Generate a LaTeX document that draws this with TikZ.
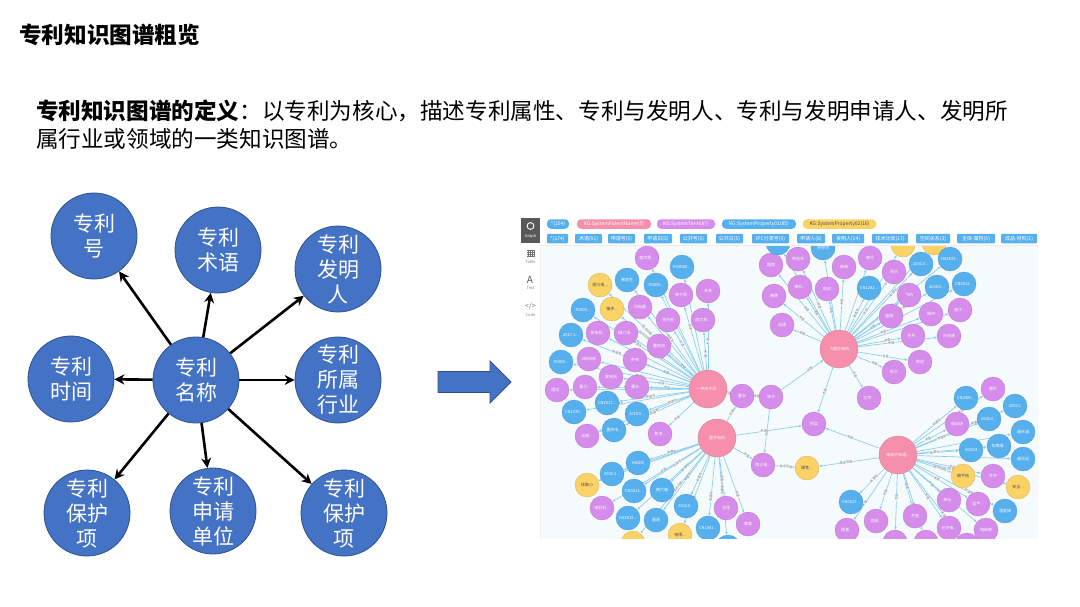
\documentclass[tikz,border=0pt]{standalone}
\usepackage{fontspec}
\setmainfont{Noto Sans CJK SC}
\usetikzlibrary{arrows.meta}
\pgfdeclarelayer{under}
\pgfdeclarelayer{edges}
\pgfsetlayers{under,edges,main}
\definecolor{bigblue}{HTML}{4472C4}
\definecolor{bigline}{HTML}{2F528F}
\definecolor{gpurple}{HTML}{D68CEA}
\definecolor{gblue}{HTML}{57B0EE}
\definecolor{gyellow}{HTML}{FAD265}
\definecolor{gpink}{HTML}{F58FAB}
\definecolor{gedge}{HTML}{86CCEC}
\definecolor{gpanel}{HTML}{F5FAFC}
\newcommand{\dd}{.{}.{}.}
\tikzset{
  big/.style={circle,draw=bigline,line width=.8pt,fill=bigblue,minimum size=86pt,inner sep=0pt,text=white,align=center,font=\fontsize{21}{25}\selectfont},
  bigarrow/.style={line width=2.6pt,black,-{Stealth[length=10pt,width=10pt]}},
  gn/.style={circle,minimum size=24pt,inner sep=0pt,align=center,font=\fontsize{4}{5}\selectfont,text=white},
  P/.style={gn,fill=gpurple,draw=gpurple!85!black,line width=.3pt},
  B/.style={gn,fill=gblue,draw=gblue!85!black,line width=.3pt},
  Y/.style={gn,fill=gyellow,draw=gyellow!85!black,line width=.3pt,text=black!70},
  H/.style={gn,fill=gpink,draw=gpink!85!black,line width=.3pt,minimum size=38pt},
  gedgeline/.style={draw=gedge,line width=.65pt,-{Latex[length=2.8pt,width=2.6pt]}},
  elabel/.style={sloped,font=\fontsize{3.2}{4}\selectfont,text=black!55,fill=gpanel,inner sep=.2pt},
  pillA/.style={rounded corners=4pt,minimum height=9.5pt,inner sep=0pt,text=white,font=\fontsize{5}{6}\selectfont},
  pillB/.style={rounded corners=1pt,minimum height=9.5pt,inner sep=0pt,text=white,fill=gblue,font=\fontsize{5}{6}\selectfont},
  sidelabel/.style={font=\fontsize{4}{5}\selectfont,text=black!50,inner sep=0pt},
  headline/.style={anchor=west,inner sep=0pt,font=\fontsize{22.6}{28}\selectfont},
}
\newcommand{\hubedges}[3]{%
  \begin{pgfonlayer}{edges}
  \foreach \n [count=\i] in {#3}
    \path[gedgeline] (#1) -- node[elabel,pos={0.42+0.13*mod(\i,3)}]{#2} (\n);
  \end{pgfonlayer}}
\newcommand{\pillitem}[6]{\node[#5,minimum width=#3pt-#2pt] (#1) at ({(#2+#3)/2},#4) {#6};}
\begin{document}
\begin{tikzpicture}[x=1pt,y=-1pt]
\useasboundingbox (0,0) rectangle (1080,606);
\begin{pgfonlayer}{under}
\fill[white] (0,0) rectangle (1080,606);
\fill[gpanel] (540,245) rectangle (1038,539);
\end{pgfonlayer}

% headings
\node[headline] (title) at (19,35) {\textbf{专利知识图谱粗览}};
\node[headline] (line1) at (36,111) {\textbf{专利知识图谱的定义}：以专利为核心，描述专利属性、专利与发明人、专利与发明申请人、发明所};
\node[headline] (line2) at (36,139) {属行业或领域的一类知识图谱。};

% left diagram
\node[big] (name) at (196,380) {专利\\名称};
\node[big] (num) at (94,236) {专利\\号};
\node[big] (term) at (218,250) {专利\\术语};
\node[big] (inv) at (338,269) {专利\\发明\\人};
\node[big] (time) at (71,379) {专利\\时间};
\node[big] (ind) at (338,380) {专利\\所属\\行业};
\node[big] (prot1) at (87,513) {专利\\保护\\项};
\node[big] (app) at (213,511) {专利\\申请\\单位};
\node[big] (prot2) at (344,513) {专利\\保护\\项};
\foreach \tgt in {num,term,inv,time,ind,prot1,app,prot2} \draw[bigarrow] (name) -- (\tgt);

% block arrow
\draw[draw=bigline,line width=.8pt,fill=bigblue] (438,371.5) -- (490,371.5) -- (490,361) -- (511,382) -- (490,403) -- (490,392.5) -- (438,392.5) -- cycle;

% graph nodes
\node[H] (A) at (708,389) {一种双子风\dd};
\node[H] (Bh) at (717,438) {置步电机};
\node[H] (C) at (839,349) {飞属生电机};
\node[H] (D) at (898,455) {电动汽车组\dd};
\foreach \n/\x/\y/\s/\lbl in {
 a1/647/258/P/盖术质\dd, a2/682/267/B/F03D80\dd, a3/656/285/B/F03D0\dd, a4/627/280/B/佛李生, a5/600/285/Y/提行电\dd,
 a6/681/295/P/转子泵, a7/708/291/P/车身, a8/612/309/Y/偏评\dd, a9/640/307/P/风电量, a10/583/310/B/F03D3\dd,
 a11/668/320/P/领扑桩, a12/703/320/P/四力发\dd, a13/626/333/P/磁力块\dd, a14/598/333/P/发电机\dd, a15/571/335/B/2017.1\dd,
 a16/659/346/P/蓄电池, a17/635/360/P/齐夹, a18/589/359/P/8极块和, a19/561/362/B/F03D9\dd, a20/611/377/P/发电压,
 a21/637/387/P/螺孙\dd, a22/585/387/P/葛力\dd, a23/557/390/P/国定\dd, a24/607/403/B/CN2017\dd, a25/574/412/B/CN1076\dd,
 a26/637/414/B/2018.0\dd, a27/614/430/B/重庆市\dd, a28/587/436/P/淡客\dd, a29/660/434/P/焦虑\dd,
 b1/742/396/P/置长, b2/771/397/P/转子, b3/763/465/P/院士电\dd, b4/638/463/B/H02K5/\dd, b5/612/474/B/2000.1\dd,
 b6/587/485/Y/体聚小, b7/634/491/B/CN0013\dd, b8/662/490/B/朝六端, b9/602/508/P/电机机\dd, b10/628/518/B/H02K15\dd,
 b11/656/520/B/驱逐, b12/686/506/B/2002.0\dd, b13/726/508/P/主体, b14/748/524/P/氧氯, b15/708/528/B/CN1361\dd,
 b16/680/535/Y/电氓\dd, b17/633/543/Y/{}, b18/728/547/B/{},
 c1/823/248/B/余停否, c2/903/245/Y/{}, c3/934/243/Y/{}, c4/798/259/P/神宝东, c5/844/267/P/被典, c6/870/258/P/車号,
 c7/894/272/P/毛抗, c8/921/264/B/2001.0\dd, c9/950/259/B/H02K73\dd, c10/800/287/P/搜机\dd, c11/827/289/P/机应,
 c12/869/288/B/CN1282\dd, c13/909/295/P/飞机, c14/937/287/B/2000.0\dd, c15/964/284/B/CN0012\dd, c16/891/316/P/座统\dd,
 c17/931/314/P/爆冲, c18/960/310/P/旭子\dd, c19/913/336/P/毛共\dd, c20/949/336/P/外向商, c21/920/362/P/休逆, c22/894/372/P/低芯,
 d1/771/265/P/园食, d2/774/296/P/佛蕉, d3/782/325/P/血通, d4/778/243/B/{},
 e1/869/398/P/立字\dd, e2/814/424/P/抗类, e3/807/468/Y/磷性\dd, e4/966/398/B/CN2405\dd, e5/993/389/P/直栏,
 e6/1015/406/B/2000.1, e7/957/424/P/理出场, e8/989/419/B/2000.0\dd, e9/1023/432/B/通天涵, e10/999/446/B/车南维\dd,
 e11/971/450/B/H02H3/\dd, e12/1023/459/B/速灭运, e13/963/476/Y/缩平结, e14/993/476/P/齐齐, e15/1018/487/Y/安全\dd,
 e16/949/500/P/单元\dd, e17/978/504/P/蓝芦\dd, e18/1005/511/B/湿度阀, e19/851/502/B/CN0027\dd, e20/876/521/P/范困\dd,
 e21/847/530/P/服喜\dd, e22/915/516/P/共金, e23/949/528/P/光灾电\dd, e24/986/530/P/电磁表, e25/895/542/P/{}, e26/926/542/P/{}, e27/967/545/P/{}}
 {\node[\s] (\n) at (\x,\y) {\lbl};}

% graph edges
\hubedges{A}{术语}{a1,a6,a7,a9,a11,a12,a13,a14,a16,a17,a18,a20,a21,a22,a23,a28,a29,b1}
\hubedges{A}{申请号}{a2,a3,a4,a10,a15,a19,a24,a25,a26,a27}
\hubedges{A}{技术功效}{a5,a8}
\hubedges{Bh}{术语}{b1,b3,b9,b13,b14,e2}
\hubedges{Bh}{申请号}{b4,b5,b7,b8,b10,b11,b12,b15,b18}
\hubedges{Bh}{技术功效}{b6,b16,b17}
\hubedges{b1}{术语}{b2}
\hubedges{b2}{术语}{b3,C}
\hubedges{b3}{技术功效}{e3}
\hubedges{C}{术语}{c5,c6,c7,c10,c11,c4,c13,c16,c17,c18,c19,c20,c21,c22,d1,d2,d3,e1,e2}
\hubedges{C}{申请号}{c1,c8,c9,c12,c14,c15,d4}
\hubedges{C}{技术功效}{c2,c3}
\hubedges{D}{术语}{e2,e5,e7,e14,e16,e17,e20,e21,e22,e23,e24,e25,e26,e27}
\hubedges{D}{申请号}{e4,e6,e8,e9,e10,e11,e12,e18,e19}
\hubedges{D}{技术功效}{e3,e13,e15}

% crop of the screenshot: bottom and legend band
\fill[white] (521,539) rectangle (1042,562);
\fill[white] (521,218) rectangle (1038,245);
\draw[black!8,line width=.3pt] (540,245) -- (1038,245);
\draw[black!6,line width=.3pt] (540,245) -- (540,539);

% side bar
\fill[black!65] (521,218) rectangle (540,243);
\draw[white,line width=.9pt] (530.5,226) circle (3.4pt);
\node[sidelabel,text=white] (gtext) at (530.5,236) {Graph};
\draw[black!55,line width=.35pt,step=2pt] (526.5,249.5) grid (534.5,257);
\node[sidelabel] (ttext) at (530.5,262) {Table};
\node[inner sep=0pt,font=\fontsize{10}{10}\selectfont,text=black!65] (aicon) at (530,280) {A};
\node[sidelabel] (atext) at (530.5,288.5) {Text};
\node[inner sep=0pt,font=\fontsize{7}{8}\selectfont,text=black!55] (cicon) at (530.5,306) {</>};
\node[sidelabel] (ctext) at (530.5,314.5) {Code};

% legend
\pillitem{p1}{547}{569}{224}{pillA,fill=gblue}{*(154)}
\pillitem{p2}{577}{651}{224}{pillA,fill=gpink}{KG:SystemPatentName(5)}
\pillitem{p3}{657}{715}{224}{pillA,fill=gpurple}{KG:SystemTerm(87)}
\pillitem{p4}{722}{796}{224}{pillA,fill=gblue}{KG:SystemProperty01(85)}
\pillitem{p5}{803}{876}{224}{pillA,fill=gyellow,text=black!70}{KG:SystemProperty02(16)}
\pillitem{q1}{547}{568}{238.5}{pillB}{*(174)}
\pillitem{q2}{575}{602}{238.5}{pillB}{术语(91)}
\pillitem{q3}{608}{635}{238.5}{pillB}{申请号(5)}
\pillitem{q4}{644}{672}{238.5}{pillB}{申请日(5)}
\pillitem{q5}{680}{707}{238.5}{pillB}{公开号(5)}
\pillitem{q6}{716}{743}{238.5}{pillB}{公开日(5)}
\pillitem{q7}{752}{789}{238.5}{pillB}{IPC分类号(9)}
\pillitem{q8}{797}{825}{238.5}{pillB}{申请人(8)}
\pillitem{q9}{832}{864}{238.5}{pillB}{发明人(14)}
\pillitem{q10}{872}{908}{238.5}{pillB}{技术功效(17)}
\pillitem{q11}{916}{950}{238.5}{pillB}{空间关系(3)}
\pillitem{q12}{957}{995}{238.5}{pillB}{主体-属性(5)}
\pillitem{q13}{1001}{1037}{238.5}{pillB}{成品-材料(1)}
\end{tikzpicture}
\end{document}
